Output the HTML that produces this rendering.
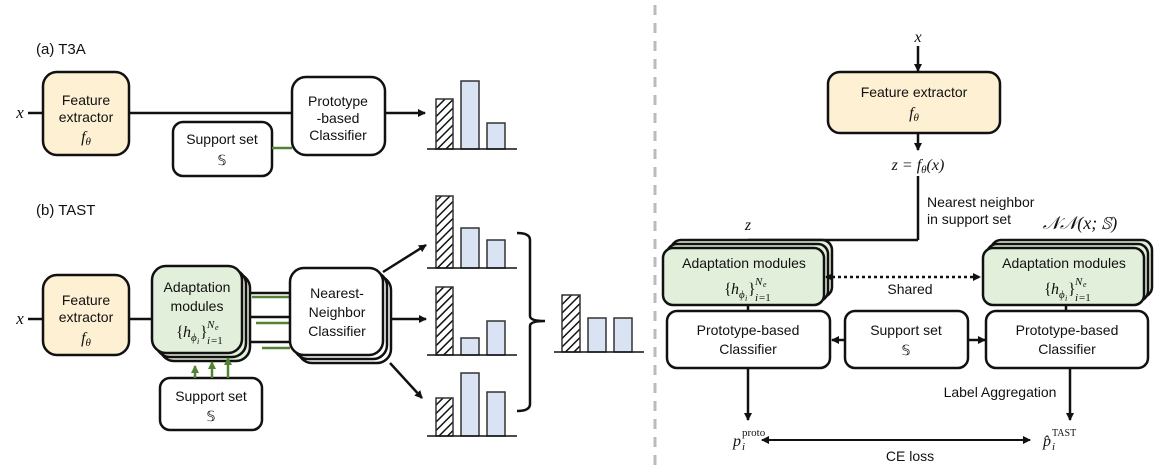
<!DOCTYPE html>
<html><head><meta charset="utf-8"><style>
html,body{margin:0;padding:0;background:#fff}
svg{display:block}
text{font-family:"Liberation Sans",sans-serif;fill:#111}
.m{font-family:"Liberation Serif",serif;font-style:italic}
.f{font-family:"Liberation Serif",serif}
</style></head><body>
<svg width="1167" height="476" viewBox="0 0 1167 476" xmlns="http://www.w3.org/2000/svg">
<defs>
<pattern id="h" patternUnits="userSpaceOnUse" width="6" height="6" patternTransform="rotate(45)">
<rect width="6" height="6" fill="#fff"/><line x1="0" y1="0" x2="0" y2="6" stroke="#111" stroke-width="3"/>
</pattern>
<marker id="a" markerWidth="8" markerHeight="8" refX="7" refY="4" orient="auto" markerUnits="userSpaceOnUse"><path d="M0,0 L8,4 L0,8 z" fill="#111"/></marker>
<marker id="as" markerWidth="8" markerHeight="8" refX="1" refY="4" orient="auto" markerUnits="userSpaceOnUse"><path d="M8,0 L0,4 L8,8 z" fill="#111"/></marker>
<marker id="g" markerWidth="8" markerHeight="8" refX="7" refY="4" orient="auto" markerUnits="userSpaceOnUse"><path d="M0,0 L8,4 L0,8 z" fill="#548235"/></marker>
</defs>
<g stroke="#111" stroke-width="2.5" fill="none">
<line x1="28" y1="113" x2="43" y2="113"/>
<line x1="129" y1="113" x2="292" y2="113"/>
<line x1="385" y1="113" x2="425" y2="113" marker-end="url(#a)"/>
<rect x="43" y="72" width="86" height="83" rx="14" fill="#fdf0d3"/>
<rect x="292" y="77" width="93" height="78" rx="14" fill="#fff"/>
<rect x="173" y="122" width="99" height="54" rx="10" fill="#fff"/>
<line x1="272" y1="148" x2="292" y2="148" stroke="#548235"/>
<line x1="28" y1="319" x2="43" y2="319"/>
<line x1="129" y1="319" x2="152" y2="319"/>
<rect x="43" y="275" width="86" height="80" rx="14" fill="#fdf0d3"/>
<rect x="160" y="274" width="90" height="87" rx="14" fill="#e2efda"/>
<rect x="156" y="270" width="90" height="87" rx="14" fill="#e2efda"/>
<rect x="152" y="266" width="90" height="87" rx="14" fill="#e2efda"/>
<line x1="250" y1="293" x2="290" y2="293"/><line x1="250" y1="317" x2="290" y2="317"/><line x1="250" y1="342" x2="290" y2="342"/>
<g stroke="#548235"><line x1="252" y1="297" x2="290" y2="297"/><line x1="256" y1="323" x2="290" y2="323"/><line x1="262" y1="348" x2="290" y2="348"/></g>
<rect x="298" y="276" width="93" height="87" rx="14" fill="#fff"/>
<rect x="294" y="272" width="93" height="87" rx="14" fill="#fff"/>
<rect x="290" y="268" width="93" height="87" rx="14" fill="#fff"/>
<rect x="160" y="378" width="102" height="52" rx="10" fill="#fff"/>
<g stroke="#548235"><line x1="195" y1="378" x2="195" y2="366" marker-end="url(#g)"/><line x1="212" y1="378" x2="212" y2="362" marker-end="url(#g)"/><line x1="228" y1="378" x2="228" y2="358" marker-end="url(#g)"/></g>
<line x1="383" y1="272" x2="426" y2="245" marker-end="url(#a)"/>
<line x1="391" y1="319" x2="426" y2="319" marker-end="url(#a)"/>
<line x1="390" y1="363" x2="422" y2="398" marker-end="url(#a)"/>
<path d="M517,233 Q530,233 530,240 L530,316 Q530,321 545,321 Q530,321 530,326 L530,404 Q530,411 517,411"/>
</g>
<g stroke="#333" stroke-width="1.5">
<rect x="436" y="99" width="17" height="50" fill="url(#h)"/><rect x="461" y="81" width="18" height="68" fill="#dae3f3"/><rect x="487" y="123" width="18" height="26" fill="#dae3f3"/>
<rect x="436" y="196" width="17" height="72" fill="url(#h)"/><rect x="461" y="228" width="18" height="40" fill="#dae3f3"/><rect x="487" y="240" width="18" height="28" fill="#dae3f3"/>
<rect x="436" y="287" width="17" height="68" fill="url(#h)"/><rect x="461" y="338" width="18" height="17" fill="#dae3f3"/><rect x="487" y="321" width="18" height="34" fill="#dae3f3"/>
<rect x="436" y="398" width="17" height="38" fill="url(#h)"/><rect x="461" y="373" width="18" height="63" fill="#dae3f3"/><rect x="487" y="392" width="18" height="44" fill="#dae3f3"/>
<rect x="562" y="295" width="18" height="57" fill="url(#h)"/><rect x="588" y="318" width="18" height="34" fill="#dae3f3"/><rect x="614" y="318" width="18" height="34" fill="#dae3f3"/>
</g>
<g stroke="#111" stroke-width="1.5">
<line x1="427" y1="149" x2="517" y2="149"/><line x1="427" y1="268" x2="517" y2="268"/><line x1="427" y1="355" x2="517" y2="355"/><line x1="427" y1="436" x2="517" y2="436"/><line x1="554" y1="352" x2="644" y2="352"/>
</g>
<line x1="655" y1="5" x2="655" y2="470" stroke="#bbb" stroke-width="3" stroke-dasharray="10,8"/>
<g stroke="#111" stroke-width="2.5" fill="none">
<line x1="918" y1="46" x2="918" y2="71" marker-end="url(#a)"/>
<rect x="828" y="72" width="172" height="61" rx="12" fill="#fdf0d3"/>
<line x1="918" y1="133" x2="918" y2="150" marker-end="url(#a)"/>
<line x1="918" y1="176" x2="918" y2="240"/>
<line x1="748" y1="240" x2="918" y2="240"/>
<line x1="748" y1="240" x2="748" y2="248"/><line x1="1066" y1="240" x2="1066" y2="248"/>
<rect x="671" y="240" width="161" height="57" rx="10" fill="#e2efda"/>
<rect x="667" y="244" width="161" height="57" rx="10" fill="#e2efda"/>
<rect x="663" y="248" width="161" height="57" rx="10" fill="#e2efda"/>
<rect x="991" y="240" width="161" height="57" rx="10" fill="#e2efda"/>
<rect x="987" y="244" width="161" height="57" rx="10" fill="#e2efda"/>
<rect x="983" y="248" width="161" height="57" rx="10" fill="#e2efda"/>
<line x1="826" y1="277" x2="980" y2="277" stroke-dasharray="3,3" marker-start="url(#as)" marker-end="url(#a)"/>
<line x1="748" y1="305" x2="748" y2="311"/><line x1="1066" y1="305" x2="1066" y2="311"/>
<rect x="667" y="311" width="163" height="57" rx="10" fill="#fff"/>
<rect x="845" y="311" width="123" height="57" rx="10" fill="#fff"/>
<rect x="986" y="311" width="162" height="57" rx="10" fill="#fff"/>
<line x1="845" y1="340" x2="832" y2="340" marker-end="url(#a)"/>
<line x1="968" y1="340" x2="985" y2="340" marker-end="url(#a)"/>
<line x1="748" y1="368" x2="748" y2="420" marker-end="url(#a)"/>
<line x1="1070" y1="368" x2="1070" y2="420" marker-end="url(#a)"/>
<line x1="762" y1="440" x2="1030" y2="440" stroke-width="2" marker-start="url(#as)" marker-end="url(#a)"/>
</g>
<g font-size="15">
<text x="36" y="54">(a) T3A</text>
<text x="36" y="215">(b) TAST</text>
</g>
<g font-size="14" text-anchor="middle">
<text class="m" x="20" y="118" font-size="17">x</text>
<text x="86" y="105">Feature</text><text x="86" y="122">extractor</text><text class="m" x="86" y="142" font-size="16">f<tspan font-size="11" dy="3">θ</tspan></text>
<text x="338" y="106">Prototype</text><text x="338" y="123">-based</text><text x="338" y="140">Classifier</text>
<text x="222" y="144">Support set</text><text x="222" y="165" font-family="DejaVu Sans">𝕊</text>
<text class="m" x="20" y="324" font-size="17">x</text>
<text x="86" y="305">Feature</text><text x="86" y="322">extractor</text><text class="m" x="86" y="343" font-size="16">f<tspan font-size="11" dy="3">θ</tspan></text>
<text x="197" y="292">Adaptation</text><text x="197" y="311">modules</text>
<text x="337" y="298">Nearest-</text><text x="337" y="317">Neighbor</text><text x="337" y="336">Classifier</text>
<text x="211" y="401">Support set</text><text x="211" y="421" font-family="DejaVu Sans">𝕊</text>
<text class="m" x="918" y="42" font-size="16">x</text>
<text x="914" y="97">Feature extractor</text><text class="m" x="914" y="118" font-size="16">f<tspan font-size="11" dy="3">θ</tspan></text>
<text class="m" x="918" y="170" font-size="16">z = f<tspan font-size="11" dy="3">θ</tspan><tspan dy="-3">(x)</tspan></text>
<text x="927" y="207" text-anchor="start">Nearest neighbor</text>
<text x="927" y="224" text-anchor="start">in support set</text>
<text class="m" x="748" y="230" font-size="16">z</text>
<text class="m" x="1080" y="229" font-size="18">𝒩𝒩(x; 𝕊)</text>
<text x="744" y="268">Adaptation modules</text>
<text x="1064" y="268">Adaptation modules</text>
<text x="910" y="294">Shared</text>
<text x="748" y="335">Prototype-based</text><text x="748" y="354">Classifier</text>
<text x="906" y="335">Support set</text><text x="906" y="355" font-family="DejaVu Sans">𝕊</text>
<text x="1067" y="335">Prototype-based</text><text x="1067" y="354">Classifier</text>
<text x="1000" y="397">Label Aggregation</text>
<text x="910" y="461">CE loss</text>
</g>
<!-- set formulas -->
<g font-size="16">
<g transform="translate(176,337)">
<text class="f" x="0" y="0">{</text><text class="m" x="7" y="0">h</text><text class="m" x="15" y="4" font-size="11">ϕ</text><text class="m" x="21" y="7" font-size="8">i</text><text class="f" x="24" y="0">}</text><text class="m" x="31" y="-9" font-size="11">N</text><text class="m" x="39" y="-7" font-size="8">e</text><text class="m" x="31" y="7" font-size="11">i</text><text class="f" x="35" y="7" font-size="11">=1</text>
</g>
<g transform="translate(724,294)">
<text class="f" x="0" y="0">{</text><text class="m" x="7" y="0">h</text><text class="m" x="15" y="4" font-size="11">ϕ</text><text class="m" x="21" y="7" font-size="8">i</text><text class="f" x="24" y="0">}</text><text class="m" x="31" y="-9" font-size="11">N</text><text class="m" x="39" y="-7" font-size="8">e</text><text class="m" x="31" y="7" font-size="11">i</text><text class="f" x="35" y="7" font-size="11">=1</text>
</g>
<g transform="translate(1044,294)">
<text class="f" x="0" y="0">{</text><text class="m" x="7" y="0">h</text><text class="m" x="15" y="4" font-size="11">ϕ</text><text class="m" x="21" y="7" font-size="8">i</text><text class="f" x="24" y="0">}</text><text class="m" x="31" y="-9" font-size="11">N</text><text class="m" x="39" y="-7" font-size="8">e</text><text class="m" x="31" y="7" font-size="11">i</text><text class="f" x="35" y="7" font-size="11">=1</text>
</g>
<text class="m" x="733" y="446">p</text><text class="m" x="742" y="450" font-size="11">i</text><text class="f" x="742" y="436" font-size="11">proto</text>
<text class="m" x="1043" y="446">p̂</text><text class="m" x="1052" y="450" font-size="11">i</text><text class="f" x="1052" y="436" font-size="10">TAST</text>
</g>
</svg>
</body></html>
